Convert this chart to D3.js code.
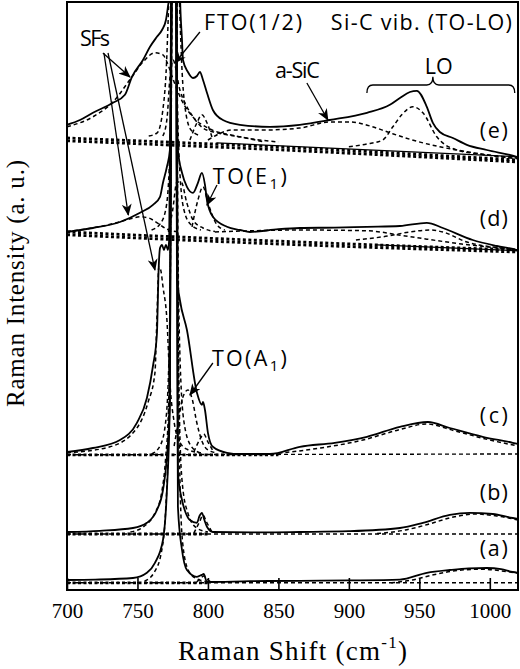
<!DOCTYPE html>
<html><head><meta charset="utf-8">
<script src="https://cdn.jsdelivr.net/npm/d3@7"></script>
<style>html,body{margin:0;padding:0;background:#fff;} svg{display:block}</style>
</head><body><svg id="chart" width="520" height="669"></svg>
<script>
// ---------------- DATA (Raman shift cm-1, intensity a.u. with vertical offsets) ----------------
const xTicks = [700, 750, 800, 850, 900, 950, 1000];
const sampleLabels = ["(a)", "(b)", "(c)", "(d)", "(e)"];

// measured spectra (solid)
const specA = [[700,2.5],[720,2.6],[746.8,3],[756.7,4.3],[762.4,6.8],[768.1,12.5],[770.9,25],[773,47.5],[774,150],[776,400],[777.5,150],[778.7,20.8],[781.6,10],[785.1,5],[792.2,3.3],[795.7,3.8],[797,4],[799.3,2],[830,2.2],[865.2,2.3],[900,2.4],[936.2,2.6],[955.3,4.3],[971.6,5],[985,5.4],[997.9,5.5],[1008,5.2],[1016.3,4.5],[1020,4.3]];
const specB = [[700,14.5],[723.4,14.8],[746.8,15.5],[756.7,16.8],[763.8,20],[768.1,25],[770.9,33.3],[773,47.5],[774,150],[776,400],[777.6,150],[778.7,29.3],[781.6,22.5],[784,19.5],[787.2,17.5],[792.2,16.8],[794,18.5],[795.7,19.3],[797.5,17.5],[799.3,15.8],[803.5,14.5],[840,14.4],[865.2,14.5],[900,14.7],[936.2,15.5],[952.5,16.8],[971.6,18.8],[985.8,19.3],[1002.1,19],[1016.3,18],[1020,17.8]];
const specC = [[700,34.5],[718.4,35.5],[737.6,37.5],[749.6,41.8],[756.7,48],[761,56],[763.8,64],[765,80],[766,85.5],[767.4,86.3],[768.8,85],[770.2,86.3],[771.6,85],[772.5,87.5],[774,150],[776,400],[777.5,150],[778,78.3],[780.1,72.5],[785.1,65],[792.2,49.3],[795.7,46.3],[796.5,47],[797.9,45],[800,39.3],[803.5,35.8],[813.5,34.3],[822.7,34],[844,34],[865.2,35.8],[890,36.8],[912.8,38.3],[936.2,40.8],[956,42],[971.6,40.5],[995,38.3],[1016.3,36.8],[1020,36.5]];
const specD = [[700,89.5],[718.4,90.5],[737.6,92],[751.8,94.3],[761,96.3],[766,98.3],[768.1,101.8],[770.9,105.8],[773,110],[774.5,150],[776,400],[777.5,150],[778.7,110],[781.6,104.3],[785.1,100.8],[789.4,99.3],[792.9,101.8],[795.7,104.3],[797.9,101.3],[799.3,97.5],[803.5,93.3],[813.5,90.8],[822.7,90],[829.8,89.5],[850,90.2],[865.2,90.5],[890,90.6],[912.8,90.8],[936.2,91],[955.3,91.8],[966.7,90.5],[987.9,87.5],[1005,86],[1019.1,85],[1020,84.9]];
const specE = [[700,116.3],[709.2,117.5],[718.4,119.3],[732.6,121.8],[741.1,123.8],[746.1,128.3],[753.9,132.5],[758.9,135.8],[763.8,138.3],[767.4,140],[770.2,142.5],[771.6,145.8],[773,150],[776,400],[780.1,150],[781.6,137.5],[782.3,132.5],[785.8,129.5],[789.4,128],[792.2,128.5],[794.3,129.5],[796.5,127.5],[799.3,124.3],[803.5,120],[810.6,117.5],[822.7,116.3],[844,115.8],[865.2,116.3],[886.5,117.5],[912.8,119.3],[929.1,121.3],[936.2,123],[943.3,124.5],[948.2,124.8],[955.3,120.8],[959.6,116.8],[964.5,114.5],[973.8,113],[983.7,111.3],[997.9,110],[1019.1,108.3],[1020,108.2]];

// fitted components (dashed)
const mainA = [[755,2.2],[762,4.5],[767,9.5],[770,20],[772,40],[773.5,90],[774.5,200],[777.5,200],[778.5,90],[780,30],[782,12],[786,5],[792,2.8],[800,2.1]];
const smallA = [[792,2],[795,3],[797,3.5],[799,2.8],[802,2]];
const loA = [[930,1.8],[945,2.5],[960,3.8],[980,5],[995,5.2],[1010,4.7],[1020,4.2]];

const mainB = [[745,14.5],[755,16],[762,19],[767,24],[770,33],[772,45],[773.5,90],[774.5,200],[777.5,200],[778.5,90],[780,40],[782,26],[786,19],[792,15.5],[800,14.5]];
const smallB = [[790,14.2],[794,17],[796.5,18.7],[799,17],[803,14.4]];
const loB = [[920,14.1],[940,15],[955,16.3],[975,18.3],[990,19],[1005,18.5],[1020,17.5]];

const mainC = [[760,34],[766,36],[770,42],[772.5,60],[774,120],[775,200],[777,200],[778,120],[780,60],[783,42],[788,36],[795,34.2]];
const sfC = [[700,34.3],[730.5,35.8],[749.6,40.5],[757.4,46.8],[762.4,54.3],[763.8,68],[765.2,80.8],[766.5,80],[768.1,75.8],[770.9,67.5],[773,52],[776,42],[780,37],[785,35.2],[795,34.3]];
const toA1C = [[776,36],[779,42],[782,48],[785.8,50],[789,47.5],[792,42],[796,37],[800,35],[806,34.3]];
const smallC = [[790,34.5],[794,37.5],[797,39],[800,37],[804,34.5]];
const loC = [[850,34.2],[880,35.5],[910,37.5],[935,40],[955,41.5],[975,39.8],[1000,37.5],[1020,36]];

const mainD = [[760,90],[766,91.5],[770,95],[772.5,105],[774,130],[775,200],[777,200],[778,130],[780,105],[783,95],[788,91.3],[795,90]];
const sfD = [[700,89.6],[718,90.5],[735,91.8],[745,92.8],[752,93.3],[758,93],[764,91.8],[771,90.2],[780,89.5]];
const ftoD = [[772,89.5],[775,95],[778,102],[781,102],[785,96.8],[789.4,92.5],[796.5,90.5],[805,89.6]];
const toE1D = [[788.7,90.8],[792.9,97.5],[796.5,100.8],[800,96.8],[806.4,91.3],[812,90]];
const asicD = [[805,89.5],[830,89.8],[865,90],[913,89.8],[940,88.5],[980,86.5],[1020,85]];
const loD = [[905,87.5],[924,88.3],[943.3,89.5],[957.4,90],[966.7,89.5],[983.7,87],[1007,85.5],[1020,85]];

const mainE = [[758,113.5],[764,114.3],[768,120],[771,135],[773,160],[776,250],[779,160],[781,135],[784,120],[788,115],[795,113.5]];
const sfE = [[700,115.8],[718.4,118.3],[732.6,122],[746.1,128.3],[753.9,132],[762.4,134.3],[768.1,133.8],[770.9,132],[776,127],[782,122],[790,118],[800,115.5],[820,113.5],[850,112]];
const ftoE = [[768,113.5],[771,118],[773,128],[775.2,132.5],[780.1,125],[785.1,120.8],[789.4,118.3],[796.5,115.5],[806.4,114.3],[822.7,113.3],[840,112]];
const toE1E = [[787.2,112.5],[792.2,116.8],[795.7,118.8],[799.3,116.8],[803.5,112.5]];
const asicE = [[800,112.5],[817.7,115],[840,115],[865.2,115.5],[886.5,117],[900.7,117],[915,116],[929.1,114.3],[945,112.5],[964.5,110.8],[985,109.5],[1007,108.3],[1020,107.8]];
const loE = [[900,110.8],[912.8,111.5],[924,112.5],[931.2,115.8],[938,119],[945.4,120.8],[952.5,119.3],[962.4,113.3],[976.6,110],[997.9,108.8],[1020,108]];

// baselines
const dotA = [[700,1.8],[800,1.8]], lineA = [[700,1.8],[1020,1.8]];
const dotB = [[700,14],[800,14]], lineB = [[700,14],[1020,14]];
const dotC = [[700,33.8],[850,33.8]], lineC = [[700,33.8],[1020,34]];
const dotD1 = [[700,89.5],[865,87],[1020,85]], dotD2 = [[700,88.8],[865,86.3],[1020,84.5]], solidD = [[920,86.3],[1020,84.8]];
const dotE1 = [[700,113],[865,110.5],[1020,107.5]], dotE2 = [[700,112.3],[865,109.8],[1020,107]], solidE = [[806,111.8],[1020,108.3]];

// ---------------- DRAWING ----------------
const svg = d3.select("#chart");
const x = d3.scaleLinear().domain([700, 1020]).range([67, 518]);
const y = d3.scaleLinear().domain([0, 147]).range([590, 2]);

svg.append("rect").attr("width",520).attr("height",669).attr("fill","#fff");
svg.append("defs").append("clipPath").attr("id","clip")
  .append("rect").attr("x",x(700)).attr("y",y(147)).attr("width",x(1020)-x(700)).attr("height",y(0)-y(147));
const defs = svg.select("defs");
defs.append("marker").attr("id","arr").attr("viewBox","0 0 12 10").attr("refX",11).attr("refY",5)
  .attr("markerWidth",12).attr("markerHeight",10).attr("markerUnits","userSpaceOnUse").attr("orient","auto")
  .append("path").attr("d","M0,0 L12,5 L0,10 L3.5,5 Z").attr("fill","#000");

const line = d3.line().x(d=>x(d[0])).y(d=>y(d[1])).curve(d3.curveMonotoneX);
const plot = svg.append("g").attr("clip-path","url(#clip)");

function draw(data, style){
  const p = plot.append("path").attr("d", line(data)).attr("fill","none").attr("stroke","#000");
  if(style==="solid") p.attr("stroke-width",1.8);
  else if(style==="dash") p.attr("stroke-width",1.5).attr("stroke-dasharray","4,3");
  else if(style==="dot") p.attr("stroke-width",2.8).attr("stroke-dasharray","3,2.5");
  else if(style==="thin") p.attr("stroke-width",1.2);
  else if(style==="tdash") p.attr("stroke-width",1.4).attr("stroke-dasharray","4,3");
}
// baselines
[dotA,dotB,dotC,dotD1,dotD2,dotE1,dotE2].forEach(d=>draw(d,"dot"));
[lineA,lineB,lineC].forEach(d=>draw(d,"tdash"));
[solidD,solidE].forEach(d=>draw(d,"thin"));
// components
[mainA,smallA,loA,mainB,smallB,loB,mainC,sfC,toA1C,smallC,loC,mainD,sfD,ftoD,toE1D,asicD,loD,mainE,sfE,ftoE,toE1E,asicE,loE].forEach(d=>draw(d,"dash"));
// spectra
[specA,specB,specC,specD,specE].forEach(d=>draw(d,"solid"));

// frame
svg.append("rect").attr("x",x(700)).attr("y",y(147)).attr("width",x(1020)-x(700)).attr("height",y(0)-y(147))
  .attr("fill","none").attr("stroke","#000").attr("stroke-width",2);

// x axis
const ax = svg.append("g").attr("transform",`translate(0,${y(0)})`)
  .call(d3.axisBottom(x).tickValues(xTicks).tickFormat(d3.format("d")).tickSize(-12).tickPadding(13));
ax.select(".domain").remove();
ax.selectAll(".tick line").attr("stroke","#000").attr("stroke-width",1.6);
ax.selectAll(".tick text").attr("font-family","'Liberation Serif', 'Times New Roman', serif").attr("font-size",21).attr("fill","#000");

function fit(sel, target){
  const n = sel.node(); const w = n.getComputedTextLength(); const len = n.textContent.length;
  if(len>1) sel.attr("letter-spacing", (target - w)/(len-1));
}
const serif = "'Liberation Serif', 'Times New Roman', serif";
const sans = "'Open Sans', 'Noto Sans', sans-serif";

// axis titles
const xt = svg.append("text").attr("x",178).attr("y",660).attr("font-family",serif).attr("font-size",27).attr("fill","#000");
xt.append("tspan").text("Raman Shift (cm");
xt.append("tspan").attr("font-size",17).attr("dy",-12).text("-1");
xt.append("tspan").attr("dy",12).text(")");
fit(xt, 229);
const yt = svg.append("text").attr("transform","translate(24,407) rotate(-90)").attr("font-family",serif)
  .attr("font-size",25).attr("fill","#000").text("Raman Intensity (a. u.)");
fit(yt, 247);

// annotations
function label(txt, cx, cy, target, sub, after){
  const t = svg.append("text").attr("x",x(cx)).attr("y",y(cy)).attr("font-family",sans).attr("font-size",21.5).attr("fill","#000");
  t.append("tspan").text(txt);
  if(sub){ t.append("tspan").attr("font-size",15).attr("dy",5).text(sub); t.append("tspan").attr("dy",-5).text(after); }
  if(target) fit(t, target);
  return t;
}
label("SFs", 709.2, 136, 30);
label("FTO(1/2)", 797.2, 140, 98);
label("Si-C vib. (TO-LO)", 887.2, 140, 181);
label("a-SiC", 847.5, 128, 45);
label("LO", 953.9, 129, 28);
label("TO(E", 803.5, 101.5, 74, "1", ")");
label("TO(A", 802.8, 56, 75, "1", ")");
const sampleY = [8.5, 22.5, 41.75, 91, 113];
sampleLabels.forEach((s,i)=>label(s, 992.9, sampleY[i], 28));

// arrows [from, to] in data coords
const arrows = [
  [[725.5,134.25],[744.7,128.25]],
  [[726.2,134.25],[743.5,93.75]],
  [[729.1,134.25],[762.4,80]],
  [[794.3,139.5],[776.6,131.75]],
  [[870.2,126.75],[885.1,117.5]],
  [[806.4,101.25],[799.3,96.25]],
  [[803.5,56.75],[787.2,48.75]]
];
arrows.forEach(a=>{
  svg.append("line").attr("x1",x(a[0][0])).attr("y1",y(a[0][1])).attr("x2",x(a[1][0])).attr("y2",y(a[1][1]))
    .attr("stroke","#000").attr("stroke-width",1.3).attr("marker-end","url(#arr)");
});

// brace over LO
const bx1 = x(912.8), bx2 = x(1017.7), bm = x(959.6), yEnd = y(124.25), yL = y(126.25), yTip = y(128.3), r = 6;
svg.append("path").attr("d",
  `M${bx1},${yEnd} Q${bx1},${yL} ${bx1+r},${yL} L${bm-r},${yL} Q${bm},${yL} ${bm},${yTip} Q${bm},${yL} ${bm+r},${yL} L${bx2-r},${yL} Q${bx2},${yL} ${bx2},${yEnd}`)
  .attr("fill","none").attr("stroke","#000").attr("stroke-width",1.3);
</script></body></html>
